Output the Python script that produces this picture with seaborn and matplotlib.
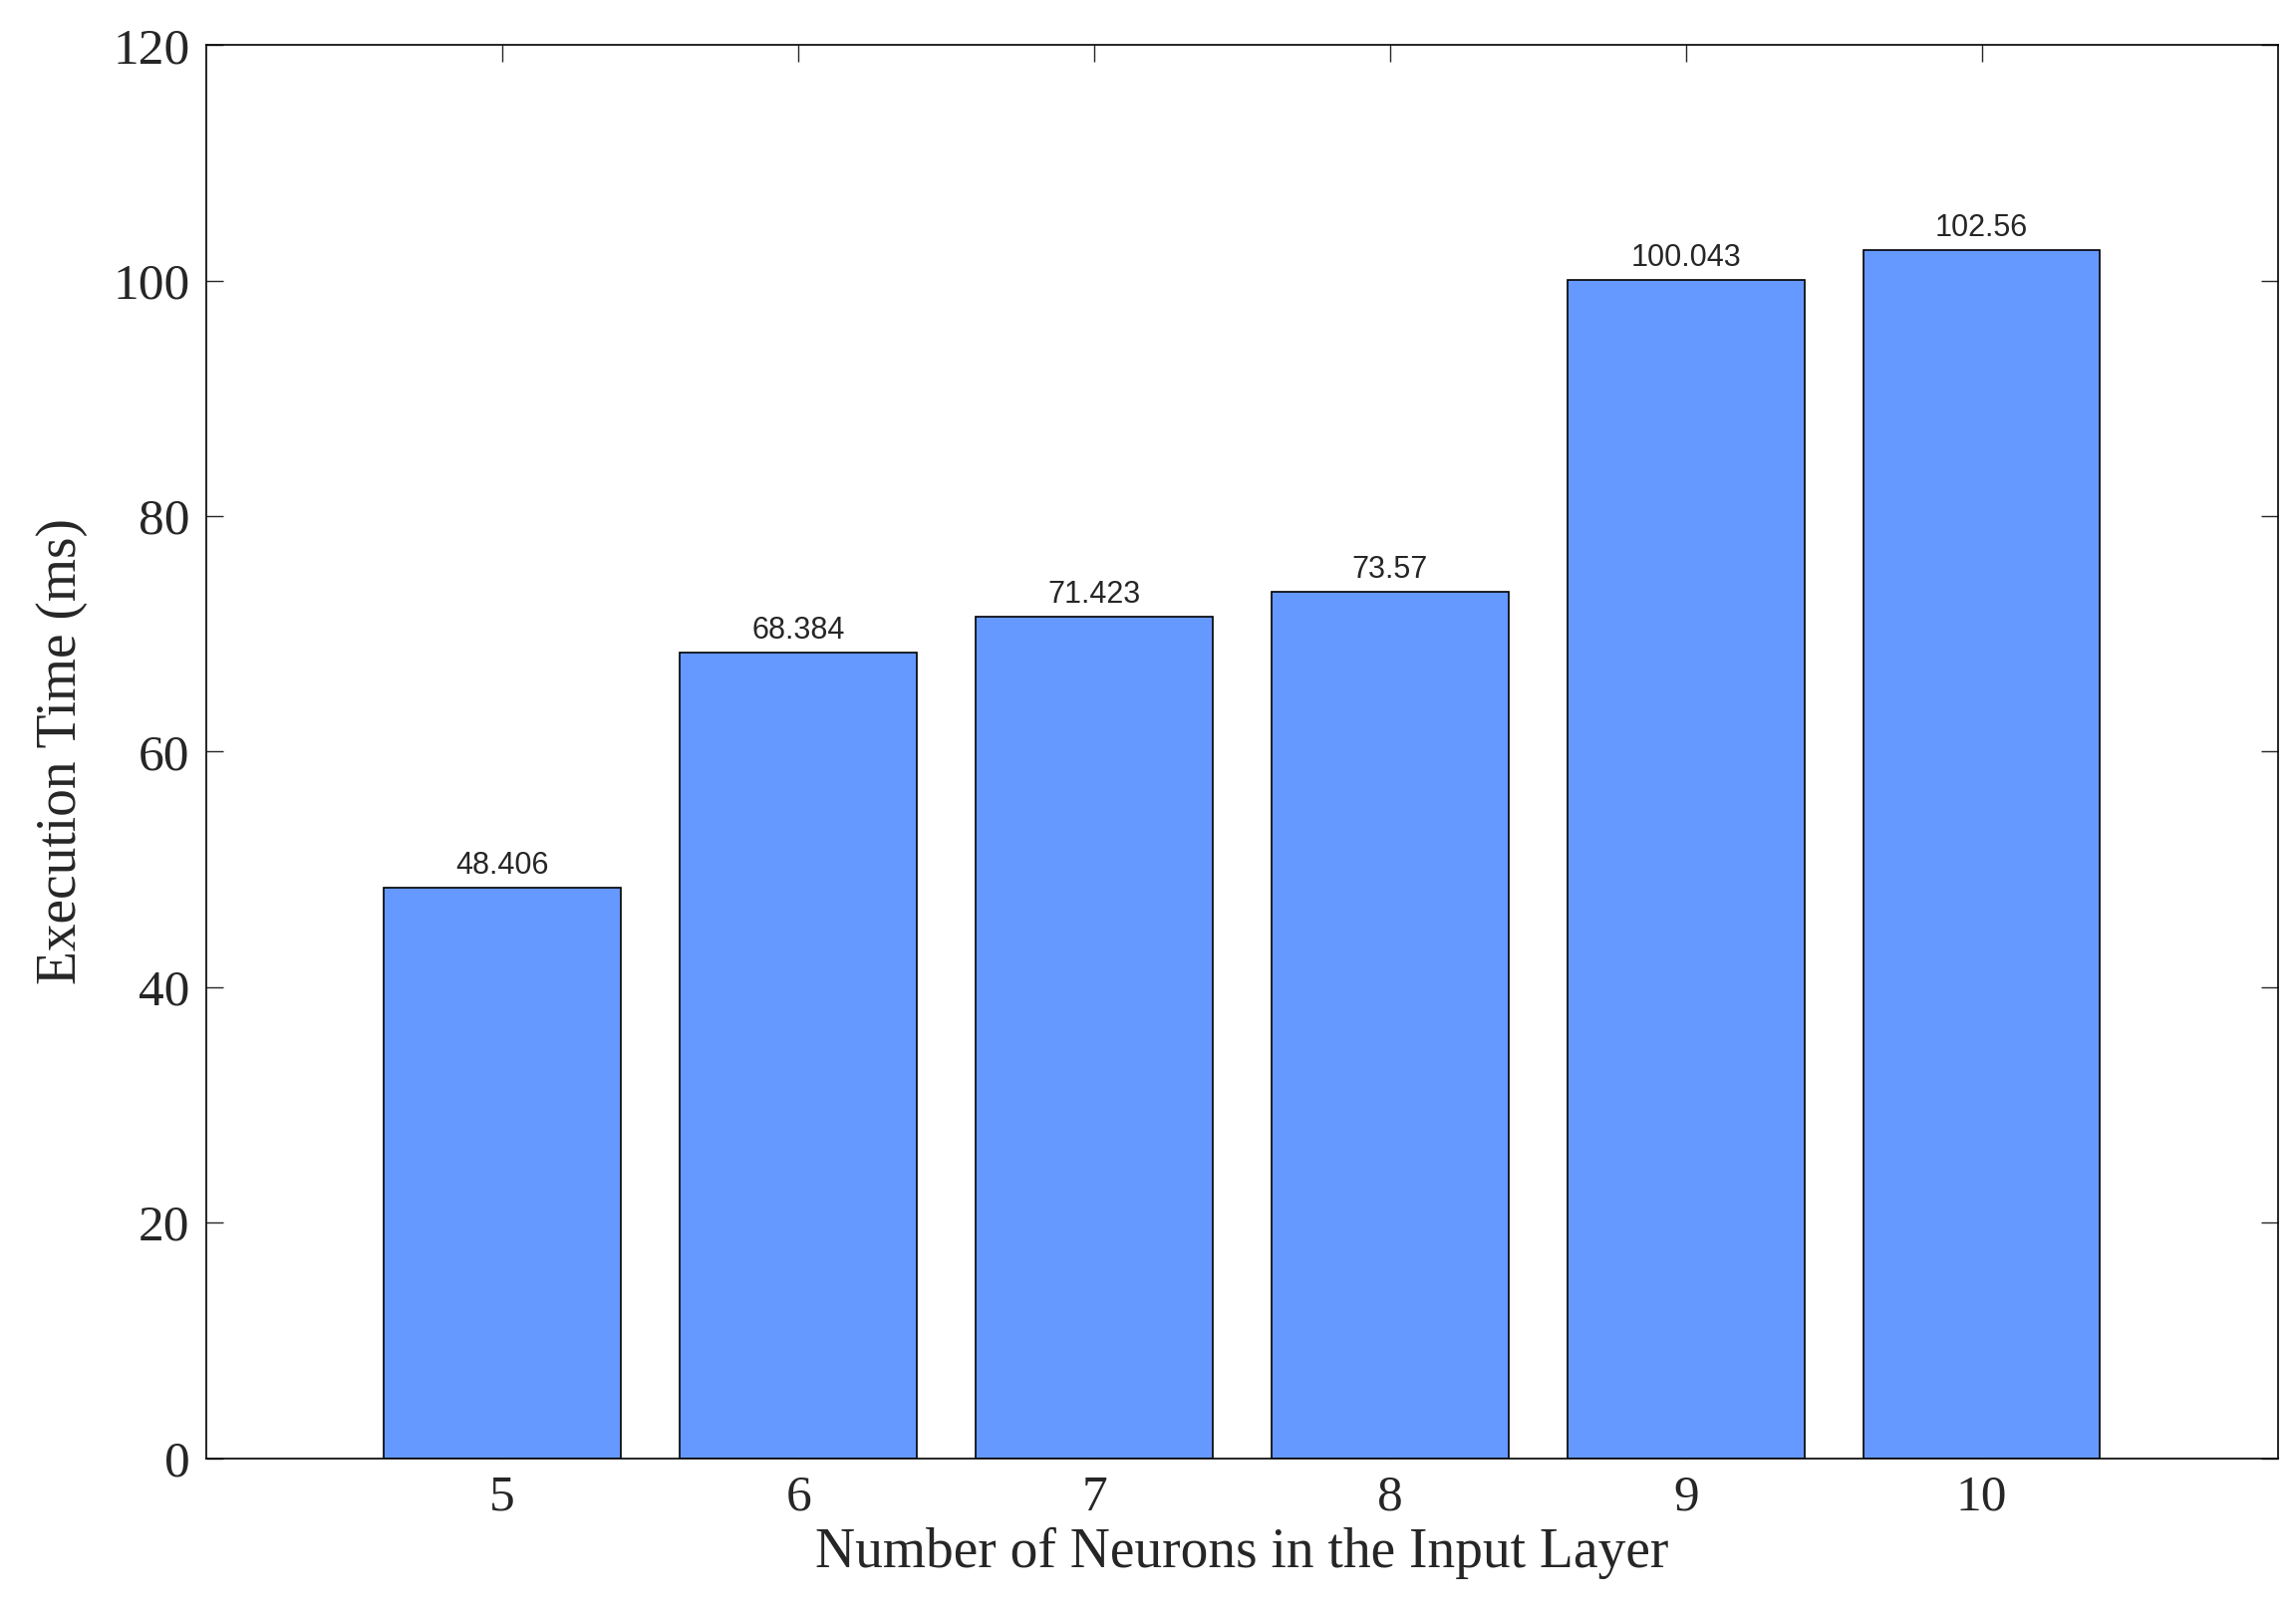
import matplotlib
matplotlib.use("Agg")
import matplotlib.pyplot as plt
import seaborn as sns
import pandas as pd

neurons = [5, 6, 7, 8, 9, 10]
times = [48.406, 68.384, 71.423, 73.57, 100.043, 102.56]
labels = ["48.406", "68.384", "71.423", "73.57", "100.043", "102.56"]

sns.set_style("white")
plt.rcParams['font.family'] = ['Liberation Serif', 'DejaVu Serif']

fig = plt.figure(figsize=(23.04, 16.19), dpi=100)
ax = fig.add_axes([0.090, 0.096, 0.902, 0.876])
df = pd.DataFrame({"n": neurons, "t": times})
sns.barplot(data=df, x="n", y="t", native_scale=True, width=0.8,
            color="#6699FF", saturation=1, edgecolor="black", linewidth=1.2, ax=ax)
ax.set_xlim(4, 11)
ax.set_ylim(0, 120)
ax.set_xticks(neurons)
ax.set_yticks(range(0, 121, 20))
for x, y, l in zip(neurons, times, labels):
    ax.text(x, y + 0.6, l, ha="center", va="bottom", fontsize=22, family="Liberation Sans")
ax.tick_params(direction="in", length=12, width=1, labelsize=37, top=True, right=True,
               bottom=True, left=True, pad=12)
for s in ax.spines.values():
    s.set_color("black"); s.set_linewidth(1.2); s.set_visible(True)
ax.set_xlabel("Number of Neurons in the Input Layer", fontsize=40, labelpad=4)
ax.set_ylabel("Execution Time (ms)", fontsize=40, labelpad=18)
fig.savefig("out.png", dpi=100, facecolor="white")
